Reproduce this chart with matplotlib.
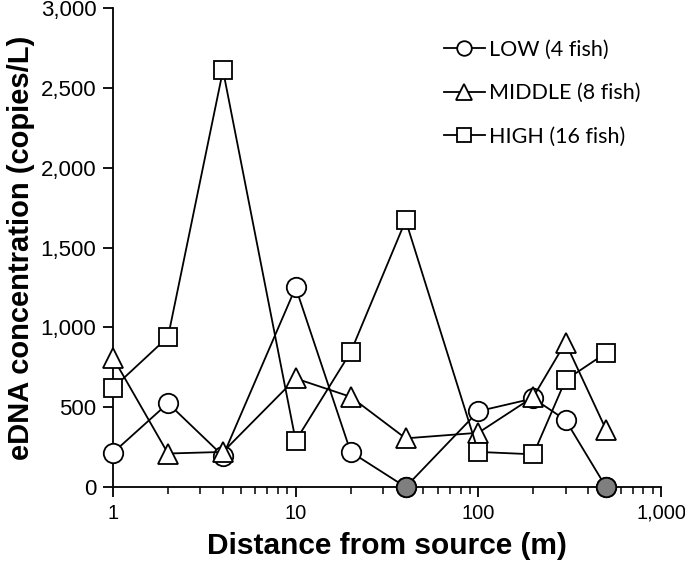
import numpy as np
import matplotlib
matplotlib.use("Agg")
import matplotlib.pyplot as plt
from matplotlib.ticker import FuncFormatter, LogLocator

# Data
distance = [1, 2, 4, 10, 20, 40, 100, 200, 300, 500]
low = [215, 525, 195, 1250, 220, 0, 475, 555, 420, 0]
middle = [810, 210, 220, 680, 565, 305, 340, 565, 905, 360]
high = [620, 940, 2610, 290, 845, 1670, 220, 205, 670, 840]
zero_idx = [5, 9]  # LOW points at zero are shown filled grey

plt.rcParams['font.family'] = ['Liberation Sans', 'DejaVu Sans']

fig = plt.figure(figsize=(6.85, 5.73), dpi=100)
ax = fig.add_axes([0.165, 0.150, 0.800, 0.836])

ms = 14
style = dict(color='black', lw=1.3, markerfacecolor='white',
             markeredgecolor='black', markeredgewidth=1.3, markersize=ms)

ax.plot(distance, low, marker='o', label='LOW (4 fish)', zorder=3, **style)
ax.plot(distance, middle, marker='^', label='MIDDLE (8 fish)', zorder=3,
        **dict(style, markersize=ms + 1))
ax.plot(distance, high, marker='s', label='HIGH (16 fish)', zorder=3,
        **dict(style, markersize=ms - 1))
ax.plot([distance[i] for i in zero_idx], [low[i] for i in zero_idx],
        ls='none', marker='o', markersize=ms, markerfacecolor='#7f7f7f',
        markeredgecolor='black', markeredgewidth=1.3, zorder=4)

ax.set_xscale('log')
ax.set_xlim(1, 1000)
ax.set_ylim(0, 3000)
ax.set_yticks(np.arange(0, 3001, 500))
ax.yaxis.set_major_formatter(FuncFormatter(lambda v, p: f"{int(v):,}"))
ax.xaxis.set_major_formatter(FuncFormatter(lambda v, p: f"{int(v):,}"))
ax.xaxis.set_minor_locator(LogLocator(base=10, subs=np.arange(2, 10)))

for s in ['top', 'right']:
    ax.spines[s].set_visible(False)
for s in ['left', 'bottom']:
    ax.spines[s].set_linewidth(1.3)

ax.tick_params(axis='both', which='major', labelsize=16, width=1.3, length=7,
               direction='out', color='black', pad=5)
ax.tick_params(axis='x', which='major', labelsize=14.5)
ax.tick_params(axis='x', which='minor', width=1.1, length=5, direction='out')
for line in ax.lines:
    line.set_clip_on(False)

ax.set_xlabel('Distance from source (m)', fontsize=21.5, fontweight='bold',
              labelpad=7)
ax.set_ylabel('eDNA concentration (copies/L)', fontsize=21, fontweight='bold',
              labelpad=4)

leg = ax.legend(loc='upper right', bbox_to_anchor=(0.998, 0.975), frameon=False,
                handlelength=1.9, handletextpad=0.2,
                labelspacing=1.1, markerscale=0.75,
                prop={'family': ['Lato', 'DejaVu Sans'], 'size': 15.5})

fig.savefig('out.png', dpi=100)
